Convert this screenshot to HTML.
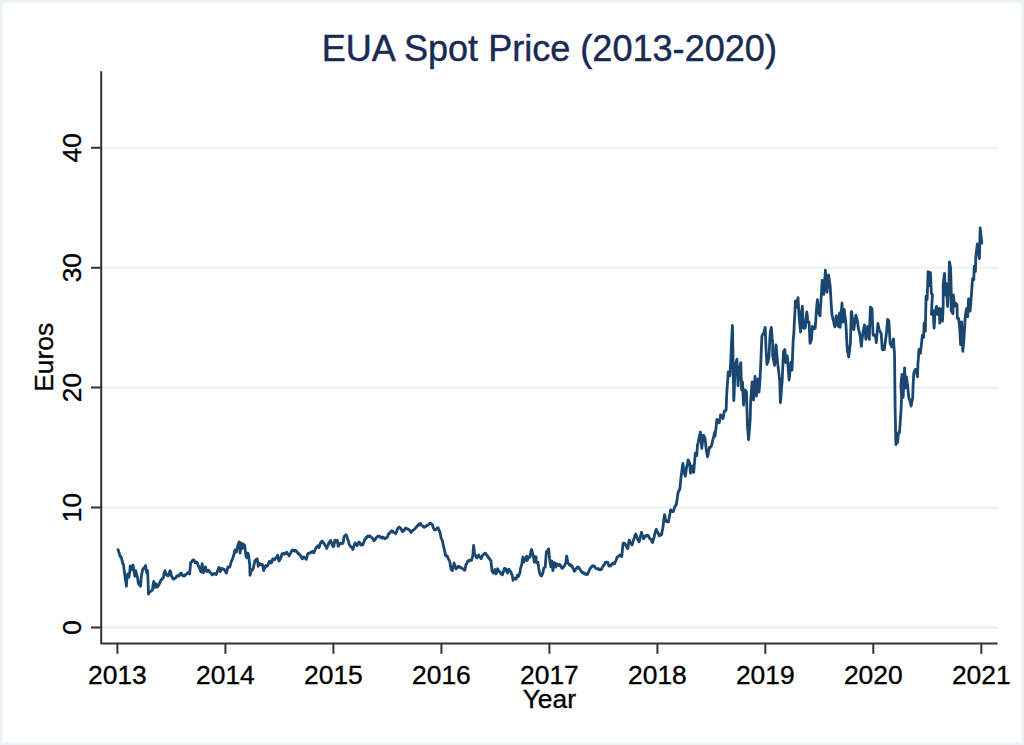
<!DOCTYPE html>
<html><head><meta charset="utf-8"><style>
html,body{margin:0;padding:0;width:1024px;height:745px;overflow:hidden;background:#fff}
svg{display:block}
text{font-family:"Liberation Sans",sans-serif}
</style></head><body>
<svg width="1024" height="745" viewBox="0 0 1024 745">
<rect x="0" y="0" width="1024" height="745" fill="#EAF2F3"/>
<rect x="2.4" y="2.4" width="1019.2" height="740.2" fill="#ffffff"/>
<g stroke="#EAF2F3" stroke-width="2.3">
<line x1="101" y1="147.8" x2="997.6" y2="147.8"/>
<line x1="101" y1="267.7" x2="997.6" y2="267.7"/>
<line x1="101" y1="387.6" x2="997.6" y2="387.6"/>
<line x1="101" y1="507.6" x2="997.6" y2="507.6"/>
<line x1="101" y1="627.5" x2="997.6" y2="627.5"/>
</g>
<g stroke="#333" stroke-width="2" fill="none" stroke-linejoin="round">
<path d="M101.2 71.3 V643.4 H997.6"/>
<path d="M91 147.8H101M91 267.7H101M91 387.6H101M91 507.6H101M91 627.5H101"/>
<path d="M117.4 643.4V653.7M225.4 643.4V653.7M333.4 643.4V653.7M441.4 643.4V653.7M549.4 643.4V653.7M657.4 643.4V653.7M765.3 643.4V653.7M873.3 643.4V653.7M981.3 643.4V653.7"/>
</g>
<path id="series" d="M118.0 549.6 L118.5 550.8 L118.9 552.4 L119.4 553.4 L119.8 555.4 L120.3 556.6 L120.8 556.5 L121.3 557.5 L121.8 559.4 L122.2 561.1 L122.7 563.2 L123.6 565.0 L124.1 569.7 L124.5 572.5 L125.0 576.3 L125.5 579.6 L125.9 582.3 L126.4 586.2 L126.9 578.2 L127.8 574.0 L128.3 575.6 L128.8 577.3 L129.7 572.6 L130.2 566.0 L130.7 566.7 L131.1 568.0 L131.6 569.7 L132.1 568.0 L132.5 567.0 L133.0 565.0 L133.4 567.4 L133.9 570.7 L134.4 573.2 L134.9 576.3 L135.4 573.7 L135.8 570.7 L136.3 573.1 L136.7 574.5 L137.2 576.3 L137.7 578.7 L138.1 581.9 L138.6 583.8 L139.1 583.9 L139.6 585.4 L140.0 585.3 L140.5 586.2 L141.0 580.4 L141.5 575.4 L142.0 572.7 L142.4 570.8 L142.9 568.8 L143.4 568.9 L143.8 567.8 L144.3 567.9 L144.9 566.8 L145.5 565.5 L146.1 569.2 L146.6 572.6 L147.1 571.5 L147.6 570.7 L148.1 582.5 L148.5 594.2 L149.0 593.0 L149.4 592.2 L149.9 591.7 L150.4 591.3 L150.9 591.3 L151.4 590.8 L151.8 590.4 L152.3 590.4 L152.8 587.5 L153.2 584.4 L153.7 581.5 L154.1 584.3 L154.6 587.6 L155.1 586.7 L155.5 585.3 L156.0 583.8 L156.5 584.6 L156.9 586.1 L157.4 587.1 L157.9 586.4 L158.3 586.0 L158.8 584.8 L159.3 584.0 L159.8 582.4 L160.2 582.2 L160.7 580.5 L161.2 579.6 L161.7 579.5 L162.1 579.4 L162.6 578.2 L163.1 578.2 L163.6 576.3 L164.0 573.9 L164.4 572.8 L164.9 570.7 L165.4 572.3 L165.8 573.3 L166.3 574.4 L166.8 575.2 L167.2 574.9 L167.7 575.7 L168.2 575.8 L168.6 574.6 L169.1 573.3 L169.6 571.9 L170.0 570.7 L170.6 571.6 L171.1 574.4 L171.6 576.3 L172.1 577.6 L172.6 577.7 L173.0 578.7 L173.5 579.2 L173.9 578.3 L174.4 578.7 L174.9 578.3 L175.3 577.8 L175.8 577.9 L176.2 577.2 L176.7 576.1 L177.2 575.9 L177.7 575.8 L178.1 576.1 L178.6 575.3 L179.1 575.9 L179.6 575.2 L180.1 574.1 L180.5 573.3 L181.0 573.1 L181.5 573.3 L181.9 574.8 L182.4 574.8 L182.9 575.9 L183.4 575.5 L183.8 575.6 L184.3 576.0 L184.7 575.0 L185.2 575.4 L185.7 574.8 L186.2 574.3 L186.6 574.2 L187.1 573.5 L187.6 572.6 L188.1 573.4 L188.6 573.0 L189.1 573.5 L189.6 574.0 L190.2 567.9 L190.8 562.2 L191.3 562.2 L191.7 561.8 L192.2 560.8 L192.7 560.1 L193.2 559.8 L193.7 559.9 L194.2 560.5 L194.6 561.4 L195.1 562.7 L195.6 562.6 L196.0 562.6 L196.4 562.0 L196.9 562.2 L197.4 562.9 L197.9 564.6 L198.4 566.0 L198.9 566.8 L199.3 567.9 L199.8 568.8 L200.3 570.4 L200.7 571.2 L201.2 572.1 L201.6 567.9 L202.1 563.7 L202.6 566.8 L203.0 569.8 L203.5 572.6 L204.0 570.6 L204.4 570.2 L204.9 568.7 L205.4 566.9 L205.9 568.9 L206.3 570.4 L206.8 571.6 L207.3 571.0 L207.7 570.5 L208.2 570.2 L208.7 570.3 L209.1 571.6 L209.6 571.5 L210.1 572.6 L210.6 572.7 L211.1 573.4 L211.5 573.9 L212.0 574.9 L212.5 574.5 L212.9 573.9 L213.4 573.6 L213.9 574.0 L214.4 573.7 L214.8 573.7 L215.3 574.1 L215.7 573.8 L216.2 574.5 L216.7 573.7 L217.1 572.1 L217.6 570.7 L218.1 569.2 L218.5 568.2 L219.0 567.4 L219.5 568.6 L219.9 570.0 L220.4 571.6 L220.9 570.1 L221.3 569.9 L221.8 568.4 L222.3 569.2 L222.8 568.8 L223.2 569.1 L223.7 569.3 L224.2 569.4 L224.6 570.1 L225.1 571.0 L225.6 571.6 L226.0 572.9 L226.5 573.1 L227.0 570.6 L227.5 568.4 L228.0 566.9 L228.4 567.4 L228.9 566.9 L229.4 566.5 L229.8 566.9 L230.3 565.3 L230.8 563.1 L231.2 562.1 L231.7 560.4 L232.2 559.8 L232.6 558.5 L233.1 557.1 L233.6 555.7 L234.1 553.5 L234.5 551.7 L235.0 550.0 L235.6 550.7 L236.1 552.2 L236.6 550.7 L237.0 548.5 L237.5 546.6 L238.0 545.4 L238.6 543.3 L239.1 541.9 L239.6 547.2 L240.1 553.2 L240.6 548.4 L241.1 542.9 L241.6 546.3 L242.2 548.5 L242.7 546.6 L243.2 543.8 L243.7 544.6 L244.1 545.1 L244.6 545.2 L245.1 549.1 L245.5 552.1 L246.0 556.0 L246.4 557.0 L246.9 557.9 L247.4 555.4 L247.9 553.2 L248.4 554.5 L248.8 556.9 L249.7 564.5 L250.0 575.3 L250.5 573.0 L251.1 571.6 L251.6 570.1 L252.1 569.5 L252.5 569.7 L253.0 569.2 L253.5 567.6 L253.9 564.9 L254.4 563.3 L254.9 560.7 L255.4 560.9 L255.8 560.5 L256.3 559.4 L256.7 558.8 L257.2 558.8 L257.7 562.2 L258.2 566.3 L258.7 565.0 L259.1 564.1 L259.6 563.5 L260.1 563.9 L260.6 564.5 L261.0 564.7 L261.5 564.5 L262.4 564.5 L263.0 567.5 L263.6 570.6 L264.1 569.4 L264.7 568.1 L265.2 566.3 L265.7 565.6 L266.2 566.1 L266.6 566.3 L267.1 565.9 L267.6 565.4 L268.1 564.7 L268.6 563.3 L269.0 561.9 L269.5 561.2 L269.9 562.0 L270.4 561.9 L270.9 563.0 L271.3 563.1 L271.8 562.2 L272.3 560.1 L272.8 558.8 L273.2 558.9 L273.7 559.8 L274.2 559.8 L274.6 559.8 L275.1 558.8 L275.6 558.2 L276.0 557.6 L276.5 557.4 L277.1 556.7 L277.7 555.1 L278.3 558.5 L278.9 561.2 L279.3 560.0 L279.8 559.9 L280.2 559.3 L280.7 557.9 L281.2 556.7 L281.6 554.9 L282.1 553.7 L282.6 553.9 L283.1 553.5 L283.5 553.4 L284.0 554.1 L284.5 554.3 L284.9 553.6 L285.4 553.2 L285.9 553.4 L286.3 552.4 L286.8 552.2 L287.3 553.4 L287.8 554.1 L288.2 554.1 L288.7 554.9 L289.2 556.0 L289.7 554.8 L290.1 553.8 L290.6 553.3 L291.1 552.0 L291.5 551.2 L292.0 550.4 L292.5 550.0 L292.9 550.9 L293.4 550.2 L293.9 550.3 L294.3 550.5 L294.8 550.4 L295.3 551.1 L295.8 550.8 L296.2 551.6 L296.7 551.3 L297.2 552.1 L297.6 552.9 L298.1 553.7 L298.6 554.1 L299.1 553.8 L299.5 554.7 L300.0 555.1 L300.6 555.7 L301.1 557.0 L301.6 557.0 L302.0 558.6 L302.5 558.9 L303.0 557.9 L303.4 557.6 L303.9 557.0 L304.4 557.7 L304.9 558.0 L305.3 558.2 L305.8 558.9 L306.3 559.3 L306.8 557.7 L307.2 556.2 L307.7 554.2 L308.2 553.4 L308.6 553.7 L309.1 553.1 L309.5 552.8 L310.0 552.8 L310.5 552.8 L311.0 552.2 L311.4 552.0 L311.9 551.9 L312.4 551.3 L312.9 552.3 L313.3 552.2 L313.8 552.8 L314.3 551.9 L314.7 550.7 L315.2 549.7 L315.6 548.9 L316.1 547.6 L316.6 547.1 L317.1 546.7 L317.5 546.1 L318.0 545.7 L318.5 547.2 L319.0 547.6 L319.5 546.3 L319.9 544.9 L320.4 542.9 L320.8 543.0 L321.3 541.7 L321.8 541.5 L322.2 541.0 L322.7 542.2 L323.1 542.8 L323.6 542.7 L324.1 543.8 L324.6 544.3 L325.2 545.6 L325.7 546.1 L326.3 547.2 L326.8 548.5 L327.3 546.6 L327.8 545.9 L328.3 544.6 L328.8 542.9 L329.3 542.8 L329.8 541.3 L330.2 541.4 L330.7 540.5 L331.2 542.0 L331.6 542.7 L332.1 544.9 L332.6 545.7 L333.1 546.7 L333.7 546.6 L334.3 543.0 L334.9 540.1 L335.4 541.2 L335.8 541.2 L336.3 541.9 L336.8 541.0 L337.3 540.1 L338.2 546.2 L338.7 546.0 L339.1 545.0 L339.6 543.8 L340.1 543.3 L340.5 543.6 L341.0 543.6 L341.5 543.4 L342.0 543.1 L342.4 543.2 L342.9 543.4 L343.4 541.3 L343.8 538.1 L344.3 536.3 L344.8 536.0 L345.2 535.5 L345.7 534.7 L346.2 534.9 L346.6 535.8 L347.1 537.2 L347.6 538.9 L348.1 540.3 L348.5 541.3 L349.0 543.4 L349.5 544.8 L349.9 545.3 L350.4 546.4 L350.9 546.6 L351.4 546.9 L351.9 547.8 L352.3 548.2 L352.8 549.5 L353.3 548.5 L353.7 546.6 L354.2 545.1 L354.6 544.1 L355.1 542.9 L355.6 544.1 L356.1 544.7 L356.5 544.7 L357.0 545.7 L357.5 544.3 L357.9 544.3 L358.4 542.9 L358.9 541.9 L359.4 542.8 L359.8 542.7 L360.3 543.3 L360.7 544.8 L361.2 545.2 L361.7 545.0 L362.2 544.4 L362.7 544.8 L363.2 544.2 L363.6 542.7 L364.1 541.7 L364.5 539.7 L365.0 539.1 L365.5 538.9 L366.0 537.4 L366.5 537.8 L367.0 536.7 L367.5 536.2 L368.0 536.0 L368.4 536.3 L368.9 536.7 L369.4 535.9 L369.8 535.8 L370.3 536.2 L370.8 536.8 L371.2 537.1 L371.7 537.5 L372.2 538.1 L372.7 538.6 L373.2 539.4 L373.6 540.1 L374.1 540.9 L374.6 540.0 L375.0 539.9 L375.5 538.7 L375.9 538.3 L376.4 537.6 L376.9 536.9 L377.4 536.9 L377.8 536.2 L378.3 536.2 L378.8 536.2 L379.3 535.9 L379.7 537.1 L380.2 537.2 L380.7 537.1 L381.1 537.8 L381.6 538.1 L382.1 538.3 L382.5 537.0 L383.0 537.1 L383.5 537.8 L384.0 537.6 L384.4 537.9 L384.9 538.6 L385.4 538.5 L385.8 538.0 L386.3 537.8 L386.8 537.7 L387.2 537.1 L387.7 536.3 L388.2 534.3 L388.7 533.6 L389.1 533.8 L389.6 533.1 L390.1 532.6 L390.6 531.8 L391.0 531.3 L391.5 531.0 L392.0 530.7 L392.4 531.1 L392.9 531.3 L393.3 532.4 L393.8 532.4 L394.3 532.5 L394.8 532.7 L395.2 533.0 L395.7 533.8 L396.2 532.9 L396.6 531.7 L397.1 530.2 L397.6 528.7 L398.1 528.1 L398.6 527.6 L399.0 527.3 L399.5 527.2 L400.0 527.8 L400.4 528.0 L400.9 529.0 L401.4 529.4 L401.9 530.8 L402.3 531.5 L402.8 531.5 L403.3 531.1 L403.7 530.3 L404.2 530.6 L404.6 529.4 L405.1 529.0 L405.5 528.1 L406.0 528.2 L406.5 528.3 L407.0 528.7 L407.4 529.0 L407.9 529.0 L408.4 529.6 L408.9 530.1 L409.3 529.9 L409.8 530.7 L410.3 531.0 L410.7 531.8 L411.2 532.4 L411.7 531.4 L412.1 530.9 L412.6 530.8 L413.1 530.2 L413.5 530.2 L414.0 529.6 L414.5 529.1 L414.9 528.8 L415.4 528.1 L415.9 527.7 L416.3 527.3 L416.8 526.3 L417.3 525.8 L417.7 525.3 L418.2 525.7 L418.7 524.3 L419.2 524.6 L419.6 524.1 L420.1 523.5 L420.6 523.4 L421.1 524.8 L421.5 525.4 L422.0 525.5 L422.5 525.8 L423.0 526.4 L423.4 526.9 L423.9 526.4 L424.4 527.2 L424.9 526.9 L425.3 526.5 L425.8 526.5 L426.2 526.1 L426.7 525.4 L427.2 525.5 L427.6 525.0 L428.1 525.1 L428.6 524.5 L429.1 524.3 L429.5 523.4 L430.0 523.5 L430.5 523.2 L430.9 523.6 L431.4 524.1 L431.8 524.1 L432.3 524.8 L432.8 526.4 L433.2 527.3 L433.7 528.6 L434.1 529.6 L434.7 529.8 L435.3 529.8 L435.9 529.6 L436.4 529.1 L437.0 528.1 L437.6 528.6 L438.1 527.8 L438.6 529.3 L439.1 530.2 L439.6 531.4 L440.1 532.6 L440.7 535.8 L441.3 538.7 L441.9 539.4 L442.5 541.1 L443.1 544.4 L443.7 547.2 L444.2 549.0 L444.6 550.9 L445.1 553.2 L445.6 555.6 L446.2 556.1 L446.8 555.6 L447.4 556.2 L447.9 557.6 L448.4 559.0 L448.8 559.5 L449.3 560.5 L449.8 561.7 L450.4 565.3 L451.0 568.9 L451.6 570.0 L452.2 570.7 L452.6 569.1 L453.1 566.9 L453.6 565.0 L454.0 562.9 L454.4 563.9 L454.9 565.5 L455.4 567.1 L455.8 568.9 L456.3 568.8 L456.8 567.9 L457.4 567.8 L457.9 566.7 L458.4 566.4 L458.9 566.5 L459.4 566.5 L459.9 567.3 L460.4 567.6 L460.9 567.9 L461.4 567.7 L461.9 568.3 L462.4 568.6 L462.9 568.9 L463.4 569.2 L463.9 569.0 L464.4 570.3 L464.9 570.1 L465.5 566.7 L466.1 564.1 L466.6 563.9 L467.1 563.1 L467.5 561.3 L468.0 561.1 L468.5 560.4 L469.0 560.8 L469.5 561.0 L470.0 560.3 L470.5 560.1 L471.0 560.1 L471.5 560.4 L472.1 558.5 L472.8 555.6 L473.6 545.3 L474.1 549.5 L474.6 554.4 L475.1 555.2 L475.6 555.4 L476.0 556.6 L476.5 557.8 L477.0 558.0 L477.4 556.8 L477.9 556.9 L478.4 555.8 L478.8 555.0 L479.3 556.2 L479.8 556.7 L480.2 556.8 L480.7 558.4 L481.2 558.6 L481.6 557.7 L482.1 556.2 L482.6 555.3 L483.0 555.0 L483.5 554.6 L484.0 554.2 L484.4 553.7 L484.9 553.1 L485.4 553.2 L485.9 553.7 L486.4 554.4 L486.9 555.8 L487.4 555.5 L487.9 556.8 L488.4 557.7 L488.9 558.4 L489.4 558.1 L489.9 559.7 L490.4 560.1 L490.9 560.4 L491.5 566.3 L492.1 571.3 L492.7 571.9 L493.3 573.1 L493.9 571.7 L494.4 570.6 L495.0 569.5 L495.5 572.3 L496.0 573.9 L496.6 572.3 L497.1 570.3 L497.7 568.7 L498.3 570.0 L498.9 571.5 L499.3 571.6 L499.8 571.8 L500.2 572.2 L500.7 573.5 L501.1 573.2 L501.6 574.4 L502.1 574.0 L502.5 574.7 L503.0 572.8 L503.5 571.5 L504.0 569.5 L504.5 568.3 L505.0 568.4 L505.6 569.4 L506.1 569.1 L506.7 571.6 L507.3 573.1 L507.8 572.1 L508.4 570.6 L508.9 569.1 L509.4 570.3 L509.9 571.0 L510.4 571.3 L510.9 571.9 L511.6 573.8 L512.2 575.1 L513.0 580.3 L513.6 578.8 L514.2 578.3 L514.7 578.8 L515.2 578.6 L515.7 579.2 L516.2 579.1 L516.8 577.3 L517.4 575.1 L518.0 575.4 L518.6 576.3 L519.2 574.4 L519.8 573.5 L520.6 567.9 L521.2 566.4 L521.8 563.8 L522.4 560.0 L523.0 557.0 L523.8 562.2 L524.3 561.1 L524.9 559.9 L525.4 559.0 L526.0 557.4 L526.7 556.2 L527.2 560.6 L527.8 559.1 L528.3 557.0 L528.8 557.6 L529.4 556.7 L529.9 557.0 L530.4 554.6 L531.0 551.6 L531.5 549.3 L532.1 551.4 L532.7 553.4 L533.2 556.2 L533.8 558.9 L534.3 562.2 L535.1 556.6 L535.7 556.6 L536.3 557.4 L535.9 562.2 L536.4 561.8 L536.9 562.7 L537.4 562.2 L537.9 562.2 L538.7 567.9 L539.5 572.7 L540.1 573.4 L540.6 575.3 L541.2 575.9 L541.7 575.7 L542.3 574.2 L542.8 573.5 L543.6 568.7 L544.1 567.7 L544.7 567.3 L545.2 567.1 L545.8 558.9 L546.4 551.7 L546.9 551.3 L547.4 551.3 L548.0 549.6 L548.6 548.9 L549.1 553.6 L549.6 559.0 L550.2 562.6 L550.8 566.7 L551.4 563.9 L552.0 561.0 L552.8 570.7 L553.3 568.5 L553.9 565.6 L554.4 562.6 L555.0 564.7 L555.7 567.1 L556.3 565.3 L556.9 563.8 L557.4 564.4 L558.0 564.7 L558.5 565.4 L559.0 564.9 L559.5 564.3 L560.0 564.6 L560.5 565.3 L561.0 567.1 L561.5 567.0 L562.0 568.4 L562.5 567.9 L563.0 567.6 L563.4 567.4 L563.9 566.1 L564.4 566.0 L564.9 564.8 L565.3 563.8 L565.8 563.2 L566.2 559.6 L566.7 556.2 L567.2 558.7 L567.7 561.3 L568.2 562.9 L568.6 563.9 L569.1 564.6 L569.6 565.3 L570.0 564.5 L570.5 564.7 L571.0 565.8 L571.4 566.2 L571.9 566.0 L572.4 567.0 L572.9 568.2 L573.3 568.5 L573.8 570.0 L574.3 571.2 L574.8 570.9 L575.2 570.1 L575.7 568.9 L576.2 568.9 L576.7 568.5 L577.1 567.2 L577.6 567.0 L578.1 566.9 L578.5 567.3 L579.0 568.2 L579.4 568.7 L579.9 568.9 L580.4 570.2 L580.8 570.6 L581.3 571.3 L581.7 572.2 L582.2 572.6 L582.7 572.7 L583.2 573.1 L583.6 572.6 L584.1 573.7 L584.6 573.6 L585.1 573.4 L585.5 574.4 L586.0 574.2 L586.5 574.0 L586.9 573.9 L587.4 574.5 L587.9 573.2 L588.4 572.6 L588.8 571.6 L589.3 569.9 L589.8 569.3 L590.3 568.1 L590.7 568.0 L591.2 567.4 L591.6 566.5 L592.1 566.0 L592.6 565.8 L593.1 566.3 L593.5 565.7 L594.0 566.2 L594.5 566.5 L595.1 567.1 L595.7 568.3 L596.3 568.4 L596.8 568.7 L597.2 569.1 L597.7 568.8 L598.2 568.6 L598.6 568.8 L599.1 569.8 L599.6 569.6 L600.1 569.3 L600.5 569.1 L601.0 569.8 L601.5 569.0 L602.0 568.4 L602.4 567.2 L602.9 566.5 L603.4 565.5 L603.8 565.3 L604.3 564.9 L604.8 563.4 L605.2 562.4 L605.7 562.3 L606.2 562.1 L606.7 562.2 L607.1 562.5 L607.6 562.3 L608.1 563.2 L608.5 565.1 L609.0 566.0 L609.5 566.1 L610.0 565.6 L610.4 565.1 L610.9 565.8 L611.4 565.1 L611.9 564.2 L612.3 564.2 L612.8 563.2 L613.3 563.0 L613.8 563.1 L614.2 563.9 L614.7 563.7 L615.3 561.7 L615.9 560.8 L616.5 558.5 L617.0 558.0 L617.4 557.1 L617.9 556.6 L618.4 556.3 L618.9 556.1 L619.3 555.9 L619.8 554.8 L620.3 554.8 L620.8 555.6 L621.2 555.8 L621.7 556.6 L622.2 552.8 L622.6 547.4 L623.1 543.5 L623.6 543.0 L624.0 543.0 L624.5 543.4 L625.0 543.5 L625.5 544.8 L626.0 545.7 L626.5 546.3 L626.9 547.5 L627.4 548.3 L627.9 548.6 L628.5 544.1 L629.1 540.1 L629.6 540.5 L630.1 542.3 L630.6 542.8 L631.1 542.8 L631.6 544.4 L632.1 545.0 L632.7 542.8 L633.3 540.8 L633.9 538.9 L634.4 537.5 L634.8 536.1 L635.2 534.7 L635.7 534.1 L636.3 535.4 L636.9 537.1 L637.5 538.9 L638.0 540.4 L638.6 540.4 L639.1 541.9 L639.6 540.5 L640.1 537.7 L640.5 536.0 L641.0 534.6 L641.5 532.3 L642.0 534.3 L642.5 535.5 L643.1 536.7 L643.6 538.9 L644.2 537.9 L644.8 536.7 L645.4 535.9 L645.9 536.3 L646.4 535.3 L646.8 535.4 L647.3 535.9 L647.8 535.3 L648.3 535.5 L648.8 536.6 L649.2 537.8 L649.7 538.5 L650.2 538.9 L650.7 539.1 L651.2 539.8 L651.6 540.5 L652.1 542.3 L652.6 542.5 L653.1 540.3 L653.6 539.0 L654.1 537.2 L654.6 534.6 L655.1 532.9 L655.7 530.8 L656.3 529.2 L656.8 530.9 L657.3 531.6 L657.8 532.3 L658.3 533.9 L658.8 534.6 L659.3 535.9 L659.8 535.3 L660.3 534.6 L660.7 535.1 L661.2 535.0 L661.7 534.1 L662.2 531.0 L662.8 528.2 L663.3 524.4 L663.9 519.0 L664.5 514.7 L665.0 516.4 L665.4 518.7 L665.9 520.8 L666.4 521.6 L666.9 521.8 L667.4 521.4 L667.9 521.5 L668.4 522.0 L668.9 518.9 L669.5 515.9 L670.0 513.4 L670.5 509.9 L671.0 509.8 L671.4 510.9 L671.9 511.1 L672.3 511.5 L672.8 511.7 L673.2 511.7 L673.8 510.0 L674.4 507.9 L675.0 506.3 L675.6 505.5 L676.2 505.1 L676.8 500.9 L677.4 497.4 L678.0 493.0 L678.6 491.3 L679.2 490.3 L679.8 489.5 L680.4 483.8 L681.0 477.4 L681.5 473.6 L682.0 469.9 L682.4 466.4 L682.9 463.5 L683.5 468.1 L684.1 472.5 L684.7 474.1 L685.3 476.2 L685.9 472.5 L686.5 467.7 L687.0 465.5 L687.6 463.0 L688.1 459.8 L688.6 460.6 L689.0 461.4 L689.5 462.9 L690.0 467.5 L690.5 473.1 L691.0 470.7 L691.4 468.6 L691.9 465.9 L692.4 467.5 L692.8 468.9 L693.2 470.8 L693.7 472.5 L694.2 466.2 L694.8 459.8 L695.3 453.2 L695.8 454.3 L696.3 455.2 L696.8 455.6 L697.4 445.9 L698.0 443.1 L698.6 439.9 L699.2 436.8 L699.8 435.0 L700.4 432.0 L700.9 437.2 L701.3 443.0 L701.8 448.4 L702.3 443.8 L702.9 439.8 L703.4 435.1 L703.9 435.9 L704.5 437.2 L705.0 438.7 L705.5 442.4 L705.9 446.4 L706.4 450.8 L707.0 454.3 L707.6 456.8 L708.1 454.5 L708.5 451.8 L709.0 449.5 L709.5 447.2 L710.1 447.6 L710.7 446.7 L711.3 446.5 L711.8 444.2 L712.2 443.0 L712.6 440.8 L713.1 438.7 L713.7 437.1 L714.3 433.8 L714.9 432.0 L715.0 436.4 L715.5 432.1 L716.0 428.3 L716.4 424.1 L716.9 419.5 L717.4 420.7 L717.8 420.3 L718.3 421.2 L718.7 421.7 L719.2 422.8 L719.7 419.8 L720.1 418.0 L720.6 414.8 L721.1 415.6 L721.6 416.8 L722.0 416.9 L722.5 418.2 L723.0 418.5 L723.5 415.9 L723.9 413.2 L724.4 411.0 L725.0 411.0 L725.5 410.9 L726.1 410.0 L726.7 395.0 L727.2 387.0 L727.7 380.0 L728.2 372.0 L728.8 373.4 L729.4 374.7 L730.0 375.8 L730.5 365.4 L731.0 355.5 L731.4 345.1 L731.9 335.1 L732.4 325.4 L732.9 350.2 L733.3 375.7 L733.8 400.7 L734.3 389.4 L734.7 377.5 L735.2 366.4 L735.8 363.4 L736.3 361.5 L736.9 359.3 L737.5 372.7 L738.0 385.6 L738.6 377.9 L739.2 371.0 L739.7 368.0 L740.3 365.0 L740.8 362.6 L741.6 390.0 L742.5 382.0 L743.0 393.9 L743.5 405.0 L744.0 400.1 L744.5 394.5 L745.0 390.0 L745.5 390.2 L746.0 391.2 L746.5 392.0 L747.4 425.0 L748.0 432.4 L748.6 439.7 L749.1 433.1 L749.7 425.7 L750.2 419.5 L750.7 400.0 L751.2 393.6 L751.6 388.2 L752.1 381.9 L752.6 387.8 L753.0 393.7 L753.5 400.0 L754.0 391.9 L754.5 384.9 L755.0 376.5 L755.5 382.8 L756.0 389.6 L756.5 396.0 L757.0 390.2 L757.5 384.6 L758.0 379.0 L758.5 385.9 L759.0 392.0 L759.5 386.6 L760.0 380.0 L760.5 368.9 L761.0 357.8 L761.4 347.5 L761.9 336.3 L762.4 335.0 L762.8 333.9 L763.3 334.0 L763.8 332.6 L764.3 330.8 L764.7 329.5 L765.2 327.4 L766.1 350.4 L767.0 364.5 L767.5 362.7 L768.0 361.7 L768.4 359.5 L768.9 357.9 L769.4 348.7 L769.8 339.8 L770.3 331.6 L770.8 329.6 L771.3 327.4 L771.8 332.7 L772.2 338.2 L772.7 342.9 L772.7 356.0 L773.2 357.9 L773.7 360.9 L774.1 363.0 L774.6 365.5 L775.1 358.6 L775.5 351.3 L776.0 344.8 L776.5 349.9 L776.9 355.5 L777.4 360.8 L777.9 365.2 L778.3 368.0 L778.8 372.3 L779.2 376.5 L779.7 380.0 L780.4 402.6 L781.0 396.3 L781.5 388.4 L782.1 381.9 L782.6 371.3 L783.0 362.1 L783.5 351.4 L784.0 351.3 L784.4 350.1 L784.9 349.5 L785.8 362.6 L786.3 359.9 L786.8 358.7 L787.3 356.0 L787.8 361.9 L788.2 368.5 L788.6 374.1 L789.1 380.0 L789.6 375.9 L790.0 370.7 L790.5 367.0 L791.0 362.2 L791.5 365.9 L792.0 370.2 L792.6 355.0 L793.2 340.0 L793.8 334.0 L794.3 323.3 L794.9 312.3 L795.4 300.8 L795.9 303.6 L796.4 307.2 L796.9 303.7 L797.5 300.7 L798.0 297.6 L798.6 308.1 L799.2 318.5 L799.7 322.9 L800.1 327.0 L800.6 332.0 L801.1 321.7 L801.6 312.0 L802.3 306.2 L802.9 317.3 L803.5 327.8 L804.1 328.3 L804.7 327.2 L805.3 327.8 L805.8 322.6 L806.2 317.6 L806.7 312.0 L807.2 314.8 L807.6 319.2 L808.1 322.2 L808.6 321.7 L809.1 322.2 L810.0 343.3 L810.5 342.3 L810.9 341.2 L811.4 340.0 L811.9 333.4 L812.4 326.4 L812.9 327.0 L813.3 327.9 L813.8 328.8 L814.3 328.7 L814.7 328.4 L815.2 328.3 L815.8 320.1 L816.3 311.5 L816.8 305.5 L817.4 299.7 L817.9 306.1 L818.4 312.6 L818.9 313.1 L819.5 314.9 L820.0 315.8 L820.5 307.2 L821.1 298.6 L821.7 289.2 L822.2 280.4 L822.7 285.3 L823.3 290.0 L823.8 294.3 L824.3 286.2 L824.9 277.8 L825.4 270.2 L825.9 277.5 L826.5 284.4 L827.0 292.2 L827.5 286.0 L828.1 280.7 L828.6 275.0 L829.1 278.4 L829.7 282.8 L830.2 286.8 L830.8 296.5 L831.3 306.2 L832.1 315.6 L832.6 316.9 L833.0 319.5 L833.5 320.7 L834.0 323.4 L834.4 325.3 L834.9 326.9 L835.4 323.1 L835.8 318.8 L836.3 315.6 L836.8 318.3 L837.2 320.9 L837.7 324.2 L838.2 326.4 L838.7 321.4 L839.1 317.8 L839.6 312.8 L840.1 327.4 L840.6 321.9 L841.0 315.5 L841.5 309.5 L842.0 303.0 L842.9 322.2 L843.5 315.4 L844.2 309.4 L844.7 313.9 L845.2 317.3 L845.7 321.3 L846.2 328.8 L847.1 347.6 L847.6 351.3 L848.2 354.4 L848.7 357.0 L849.3 351.9 L849.8 347.9 L850.4 342.9 L851.3 311.9 L851.6 311.5 L852.2 316.3 L852.7 320.0 L853.2 324.3 L853.8 329.7 L854.3 325.9 L854.8 322.8 L855.4 318.4 L855.9 315.2 L856.4 317.6 L857.0 318.9 L857.5 321.1 L858.0 325.8 L858.6 329.7 L859.1 331.4 L859.7 334.0 L860.2 336.2 L860.8 341.8 L861.3 346.3 L861.8 341.5 L862.4 337.1 L862.9 332.9 L863.4 330.2 L864.0 327.3 L864.5 324.9 L865.0 329.2 L865.4 334.2 L865.9 339.4 L866.4 335.8 L866.8 333.5 L867.2 329.9 L867.7 326.5 L868.2 331.3 L868.8 334.7 L869.3 339.4 L869.8 323.6 L870.4 307.2 L870.9 307.3 L871.5 308.3 L872.0 308.8 L872.5 322.1 L873.1 335.1 L873.6 334.9 L874.2 335.5 L874.7 335.2 L875.2 335.1 L875.8 338.9 L876.3 342.6 L876.8 336.6 L877.4 329.3 L877.9 323.3 L878.4 326.4 L879.0 328.5 L879.5 330.8 L880.0 331.4 L880.6 332.6 L881.1 332.9 L881.7 340.7 L882.2 349.0 L882.7 349.7 L883.2 349.4 L883.8 349.3 L884.3 349.6 L884.8 345.7 L885.4 341.2 L886.0 336.7 L886.5 332.9 L887.0 326.5 L887.6 319.5 L888.2 319.8 L888.9 321.1 L889.5 332.8 L890.2 343.7 L890.8 344.5 L891.3 346.0 L891.9 346.9 L892.4 344.8 L893.0 341.6 L893.5 338.8 L894.0 346.8 L894.5 354.4 L894.6 359.8 L895.0 400.0 L895.3 417.2 L895.9 444.5 L896.5 443.5 L897.0 442.4 L897.6 442.3 L898.3 433.4 L898.8 432.5 L899.4 432.7 L900.1 424.5 L900.9 412.7 L901.6 396.5 L900.9 385.6 L901.5 379.6 L902.0 374.5 L902.5 386.1 L903.1 397.4 L903.6 387.5 L904.1 377.7 L904.6 367.9 L905.3 387.8 L905.8 382.8 L906.4 376.8 L906.9 380.3 L907.4 384.3 L907.9 388.6 L908.6 396.5 L909.1 398.6 L909.6 399.8 L910.2 401.7 L910.7 404.0 L911.2 406.1 L911.7 402.9 L912.2 400.5 L912.7 398.0 L913.1 384.9 L913.8 373.1 L914.3 371.5 L914.8 370.7 L915.3 369.4 L915.8 371.0 L916.4 372.3 L917.0 374.2 L917.5 376.8 L917.9 364.2 L918.5 356.9 L919.0 349.4 L919.5 350.9 L920.1 352.4 L920.4 353.3 L920.9 348.3 L921.4 344.8 L921.9 339.4 L922.4 335.2 L923.0 335.8 L923.7 337.2 L924.1 323.1 L924.8 326.7 L925.4 331.2 L925.7 311.7 L926.1 296.2 L926.6 298.1 L927.1 299.6 L927.6 286.1 L928.1 271.7 L928.6 278.9 L929.1 285.5 L929.8 278.8 L930.4 272.4 L930.9 282.7 L931.4 293.6 L931.9 293.7 L932.4 294.9 L931.9 304.8 L931.4 314.4 L932.0 313.1 L932.5 311.6 L933.1 310.4 L933.6 319.5 L934.1 328.2 L934.6 319.9 L935.1 311.7 L935.6 310.4 L936.0 308.4 L936.5 306.3 L937.0 310.0 L937.5 314.4 L938.1 312.9 L938.6 309.9 L939.2 308.4 L939.8 323.1 L940.4 318.4 L940.9 313.6 L941.5 309.0 L942.0 314.7 L942.5 321.1 L943.2 305.0 L943.2 284.2 L943.9 278.3 L944.5 273.4 L945.0 284.5 L945.5 294.9 L946.2 283.5 L946.7 290.5 L947.1 298.8 L947.6 306.3 L948.2 297.1 L948.9 286.8 L949.4 262.0 L950.0 264.6 L950.6 268.1 L951.2 290.2 L951.2 311.0 L951.8 311.5 L952.3 312.9 L952.9 313.7 L953.3 294.9 L954.0 300.6 L954.6 306.3 L955.3 303.0 L955.9 303.6 L956.4 304.2 L957.0 304.3 L957.3 318.4 L958.0 318.0 L958.6 318.4 L959.1 322.2 L959.6 326.5 L960.1 335.3 L960.6 344.6 L961.1 332.7 L961.6 321.8 L962.2 337.0 L962.8 351.3 L963.4 345.3 L964.0 338.6 L964.6 327.5 L965.3 315.9 L965.9 311.7 L966.5 308.6 L967.1 313.1 L967.7 316.7 L968.5 299.0 L969.0 303.3 L969.6 307.0 L970.1 311.1 L970.7 304.1 L971.3 296.6 L971.9 287.7 L972.5 278.9 L973.1 279.0 L973.8 279.7 L974.2 266.5 L974.8 268.5 L975.4 271.4 L975.8 256.9 L976.3 252.3 L976.9 247.7 L977.4 244.0 L977.9 247.4 L978.4 251.5 L978.9 255.1 L979.4 258.5 L980.2 227.9 L980.7 233.4 L981.3 238.4 L981.8 243.2" fill="none" stroke="#1A476F" stroke-width="2.8" stroke-linejoin="round" stroke-linecap="round"/>
<text x="549.3" y="60.6" font-size="36.1" fill="#1a2a52" stroke="#1a2a52" stroke-width="0.45" text-anchor="middle">EUA Spot Price (2013-2020)</text>
<g font-size="26.4" fill="#000" stroke="#000" stroke-width="0.35" text-anchor="middle">
<text x="117.4" y="683.9">2013</text>
<text x="225.4" y="683.9">2014</text>
<text x="333.4" y="683.9">2015</text>
<text x="441.4" y="683.9">2016</text>
<text x="549.4" y="683.9">2017</text>
<text x="657.4" y="683.9">2018</text>
<text x="765.3" y="683.9">2019</text>
<text x="873.3" y="683.9">2020</text>
<text x="981.3" y="683.9">2021</text>
<text x="549.3" y="708.2">Year</text>
</g>
<g font-size="26.4" fill="#000" stroke="#000" stroke-width="0.35" text-anchor="middle">
<text transform="translate(80.5,147.8) rotate(-90)">40</text>
<text transform="translate(80.5,267.7) rotate(-90)">30</text>
<text transform="translate(80.5,387.6) rotate(-90)">20</text>
<text transform="translate(80.5,507.6) rotate(-90)">10</text>
<text transform="translate(80.5,627.5) rotate(-90)">0</text>
<text transform="translate(52.6,357.3) rotate(-90)">Euros</text>
</g>
</svg>
</body></html>
